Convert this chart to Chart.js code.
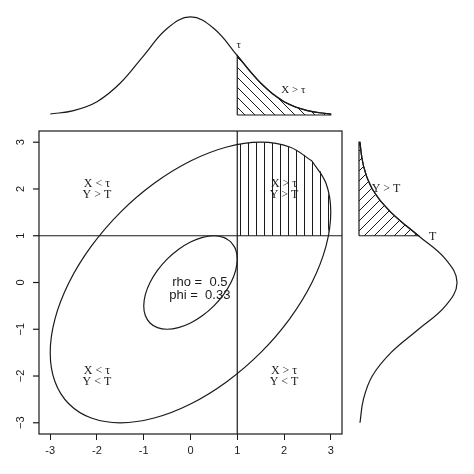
<!DOCTYPE html>
<html><head><meta charset="utf-8">
<script src="https://cdn.jsdelivr.net/npm/chart.js@4"></script>
<style>
body{margin:0;background:#fff;width:474px;height:474px;position:relative;overflow:hidden}
canvas{position:absolute}
</style></head><body>
<canvas id="top" style="left:0;top:0"></canvas>
<canvas id="main" style="left:0;top:120px"></canvas>
<canvas id="side" style="left:350px;top:120px"></canvas>
<script>
// outer ellipse (rho = 0.5)
const outerX = [2.598,2.121,1.5,0.776,0,-0.776,-1.5,-2.121,-2.598,-2.898,-3,-2.898,-2.598,-2.121,-1.5,-0.776,0,0.776,1.5,2.121,2.598,2.898,3,2.898,2.598];
const outerY = [2.598,2.898,3,2.898,2.598,2.121,1.5,0.776,0,-0.776,-1.5,-2.121,-2.598,-2.898,-3,-2.898,-2.598,-2.121,-1.5,-0.776,0,0.776,1.5,2.121,2.598];
// inner ellipse
const innerX = [0.866,0.707,0.5,0.259,0,-0.259,-0.5,-0.707,-0.866,-0.966,-1,-0.966,-0.866,-0.707,-0.5,-0.259,0,0.259,0.5,0.707,0.866,0.966,1,0.966,0.866];
const innerY = [0.866,0.966,1,0.966,0.866,0.707,0.5,0.259,0,-0.259,-0.5,-0.707,-0.866,-0.966,-1,-0.966,-0.866,-0.707,-0.5,-0.259,0,0.259,0.5,0.707,0.866];
// shaded quadrant X > tau, Y > T inside outer ellipse
const quadX = [1,1,1.25,1.5,1.8,2.121,2.4,2.598,2.8,2.898,2.97,3,2.98,2.93,1];
const quadY = [1,2.95,2.99,3,2.98,2.898,2.76,2.598,2.35,2.121,1.8,1.5,1.25,1,1];
// marginal density
const densX = [-3,-2.5,-2,-1.5,-1,-0.5,0,0.5,1,1.5,2,2.5,3];
const densY = [0.004,0.018,0.054,0.13,0.242,0.352,0.399,0.352,0.242,0.13,0.054,0.018,0.004];
const tailX = [1,1,1.25,1.5,1.75,2,2.25,2.5,2.75,3,3,1];
const tailY = [0,0.242,0.183,0.13,0.086,0.054,0.032,0.018,0.009,0.004,0,0];
const tau = 1, T = 1;
const ticks = [-3,-2,-1,0,1,2,3];

const ink = '#1a1a1a';
const serif = '"Liberation Serif", serif';
const sans = '"Liberation Sans", Arial, sans-serif';

function pts(xs, ys) { return xs.map((x, i) => ({x: x, y: ys[i]})); }
function hatch(kind) {
  const c = document.createElement('canvas');
  const s = kind === 'v' ? 8 : 10;
  c.width = s; c.height = s;
  const g = c.getContext('2d');
  g.strokeStyle = ink; g.lineWidth = 1;
  g.beginPath();
  if (kind === 'v') { g.moveTo(0.5, 0); g.lineTo(0.5, s); }
  else if (kind === 'b') { g.moveTo(-1, -1); g.lineTo(s + 1, s + 1); g.moveTo(-1, s - 1); g.lineTo(1, s + 1); g.moveTo(s - 1, -1); g.lineTo(s + 1, 1); }
  else { g.moveTo(-1, s + 1); g.lineTo(s + 1, -1); g.moveTo(-1, 1); g.lineTo(1, -1); g.moveTo(s - 1, s + 1); g.lineTo(s + 1, s - 1); }
  g.stroke();
  return g.createPattern(c, 'repeat');
}
function line(data, extra) {
  return Object.assign({data: data, showLine: true, borderColor: ink, borderWidth: 1.2, pointRadius: 0, fill: false, tension: 0}, extra || {});
}
Chart.defaults.animation = false;
Chart.defaults.responsive = false;
Chart.defaults.plugins.legend.display = false;
Chart.defaults.plugins.tooltip.enabled = false;

function texts(list) {
  return {
    id: 'texts',
    afterDatasetsDraw(chart) {
      const c = chart.ctx, xs = chart.scales.x, ys = chart.scales.y;
      c.save(); c.fillStyle = ink; c.textAlign = 'center'; c.textBaseline = 'middle';
      list.forEach(t => { c.font = t.font; c.fillText(t.s, xs.getPixelForValue(t.x), ys.getPixelForValue(t.y)); });
      c.restore();
    }
  };
}

// main panel
const mainCanvas = document.getElementById('main');
mainCanvas.width = 350; mainCanvas.height = 354;
new Chart(mainCanvas, {
  type: 'scatter',
  data: {datasets: [
    line(pts(quadX, quadY), {fill: 'shape', backgroundColor: hatch('v'), borderWidth: 0}),
    line(pts(outerX, outerY), {tension: 0.4}),
    line(pts(innerX, innerY), {tension: 0.4}),
    line([{x: tau, y: -3.24}, {x: tau, y: 3.24}]),
    line([{x: -3.24, y: T}, {x: 3.24, y: T}])
  ]},
  options: {
    layout: {padding: {left: 39, right: 8, top: 11}},
    scales: {
      x: {type: 'linear', min: -3.24, max: 3.24,
        afterBuildTicks: a => { a.ticks = ticks.map(v => ({value: v})); },
        afterFit: a => { a.height = 40; },
        grid: {drawOnChartArea: false, tickLength: 6, color: ink},
        border: {display: false},
        ticks: {color: ink, font: {family: sans, size: 11}, padding: 4, maxRotation: 0}},
      y: {type: 'linear', min: -3.24, max: 3.24, display: false}
    }
  },
  plugins: [texts([
    {s: 'X < τ', x: -2, y: 2.12, font: '12px ' + serif}, {s: 'Y > T', x: -2, y: 1.88, font: '12px ' + serif},
    {s: 'X > τ', x: 2, y: 2.12, font: '12px ' + serif}, {s: 'Y > T', x: 2, y: 1.88, font: '12px ' + serif},
    {s: 'X < τ', x: -2, y: -1.88, font: '12px ' + serif}, {s: 'Y < T', x: -2, y: -2.12, font: '12px ' + serif},
    {s: 'X > τ', x: 2, y: -1.88, font: '12px ' + serif}, {s: 'Y < T', x: 2, y: -2.12, font: '12px ' + serif},
    {s: 'rho =  0.5', x: 0.2, y: 0, font: '13px ' + sans}, {s: 'phi =  0.33', x: 0.2, y: -0.28, font: '13px ' + sans}
  ]), {
    id: 'frame',
    afterDraw(chart) {
      const c = chart.ctx, a = chart.chartArea, ys = chart.scales.y;
      c.save(); c.strokeStyle = ink; c.lineWidth = 1.2;
      c.strokeRect(a.left, a.top, a.right - a.left, a.bottom - a.top);
      c.fillStyle = ink; c.font = '11px ' + sans; c.textAlign = 'center'; c.textBaseline = 'middle';
      ticks.forEach(v => {
        const p = ys.getPixelForValue(v);
        c.beginPath(); c.moveTo(a.left, p); c.lineTo(a.left - 6, p); c.stroke();
        c.save(); c.translate(21, p); c.rotate(-Math.PI / 2); c.fillText(String(v).replace('-', '\u2212'), 0, 0); c.restore();
      });
      c.restore();
    }
  }]
});

// top marginal
const topCanvas = document.getElementById('top');
topCanvas.width = 350; topCanvas.height = 120;
new Chart(topCanvas, {
  type: 'scatter',
  data: {datasets: [
    line(pts(tailX, tailY), {fill: 'shape', backgroundColor: hatch('b')}),
    line(pts(densX, densY), {tension: 0.4})
  ]},
  options: {
    layout: {padding: {left: 39, right: 8}},
    scales: {x: {type: 'linear', min: -3.24, max: 3.24, display: false},
             y: {type: 'linear', min: -0.0204, max: 0.468, display: false}}
  },
  plugins: [texts([
    {s: 'τ', x: 1.03, y: 0.285, font: '11px ' + serif},
    {s: 'X > τ', x: 2.2, y: 0.1, font: '11px ' + serif}
  ])]
});

// right marginal
const sideCanvas = document.getElementById('side');
sideCanvas.width = 124; sideCanvas.height = 354;
new Chart(sideCanvas, {
  type: 'scatter',
  data: {datasets: [
    line(pts(tailY, tailX), {fill: 'shape', backgroundColor: hatch('f')}),
    line(pts(densY, densX), {tension: 0.4})
  ]},
  options: {
    layout: {padding: {top: 11, bottom: 40}},
    scales: {x: {type: 'linear', min: -0.0366, max: 0.468, display: false},
             y: {type: 'linear', min: -3.24, max: 3.24, display: false}}
  },
  plugins: [texts([
    {s: 'Y > T', x: 0.11, y: 2.0, font: '12px ' + serif},
    {s: 'T', x: 0.3, y: 0.98, font: '12px ' + serif}
  ])]
});
</script>
</body></html>
